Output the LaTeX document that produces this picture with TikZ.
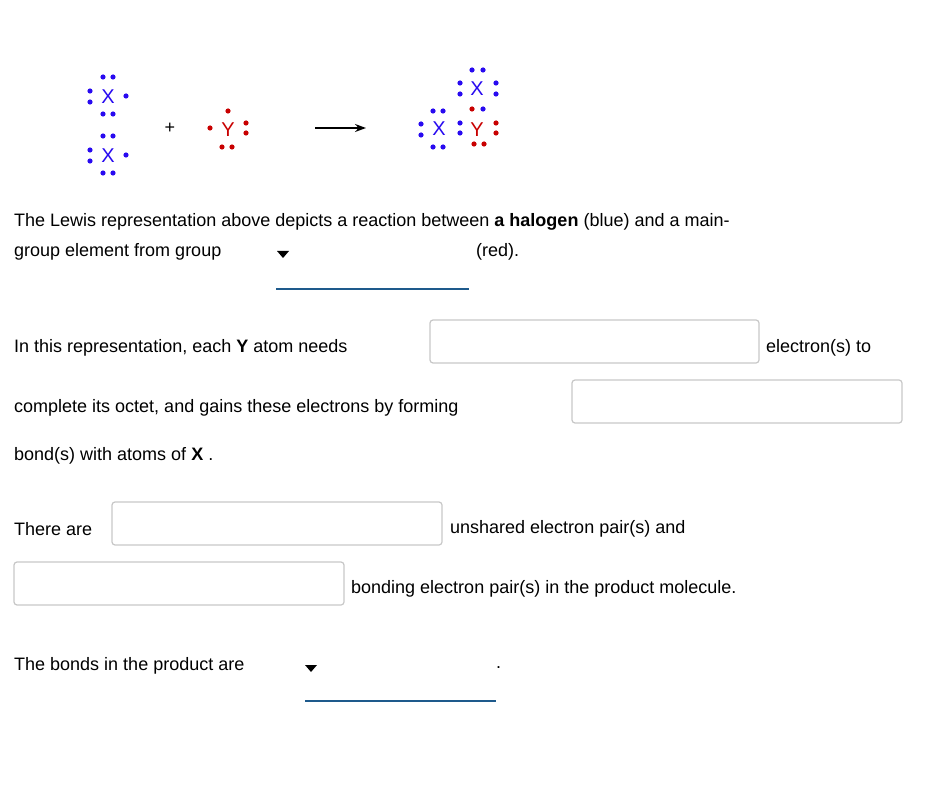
\documentclass[tikz,border=0pt]{standalone}
\usepackage{fontspec}
\setmainfont{Liberation Sans}
\usetikzlibrary{calc,arrows.meta}
\definecolor{xb}{RGB}{40,10,240}
\definecolor{yr}{RGB}{200,0,0}
\definecolor{ul}{RGB}{30,90,140}
\begin{document}
\begin{tikzpicture}[x=1pt,y=-1pt,
  txt/.style={anchor=west,inner sep=0pt,font=\fontsize{18}{20}\selectfont},
  box/.style={draw=black!22,line width=1.2pt,rounded corners=3pt},
  uline/.style={draw=ul,line width=1.8pt},
  atom/.style={inner sep=0pt,font=\fontsize{20}{20}\selectfont}]
\useasboundingbox (0,0) rectangle (948,786);
% reactant X atoms
\node[atom,text=xb] (x1) at (108,97) {X};
\node[atom,text=xb] (x2) at (108,156) {X};
\foreach \a in {x1,x2}{
 \foreach \dx/\dy in {-5/-20,5/-20,-18/-6,-18/5,18/-1,-5/17,5/17}{\fill[xb] ($(\a)+(\dx,\dy)$) circle (2.6);}}
\node[inner sep=0pt,font=\fontsize{18}{18}\selectfont] (plus) at (170,128) {+};
\node[atom,text=yr] (y1) at (228,130) {Y};
\foreach \p in {(228,111),(210,128),(246,123),(246,133),(222,147),(232,147)}{\fill[yr] \p circle (2.6);}
% arrow
\coordinate (a1) at (315,128); \coordinate (a2) at (366,128);
\draw[line width=1.6pt,-{Stealth[length=11pt,width=8pt]}] (a1) -- (a2);
% product
\node[atom,text=xb] (px) at (439,129) {X};
\node[atom,text=xb] (pxt) at (477,89) {X};
\node[atom,text=yr] (py) at (477,130) {Y};
\foreach \p in {(433,111),(443,111),(421,124),(421,135),(433,147),(443,147),
 (472,70),(483,70),(460,83),(460,94),(496,83),(496,94),
 (483,109),(460,123),(460,133)}{\fill[xb] \p circle (2.6);}
\foreach \p in {(472,109),(496,123),(496,133),(474,144),(484,144)}{\fill[yr] \p circle (2.6);}
% text
\node[txt] (t1) at (14,222) {The Lewis representation above depicts a reaction between \textbf{a halogen} (blue) and a main-};
\node[txt] (t2) at (14,252) {group element from group};
\fill (277,251) -- (289,251) -- (283,258) -- cycle;
\node[txt] (t3) at (476,252) {(red).};
\coordinate (u1a) at (276,289); \coordinate (u1b) at (469,289);
\draw[uline] (u1a) -- (u1b);
\node[txt] (t4) at (14,348) {In this representation, each \textbf{Y} atom needs};
\draw[box] (430,320) rectangle (759,363);
\node[txt] (t5) at (766,348) {electron(s) to};
\node[txt] (t6) at (14,408) {complete its octet, and gains these electrons by forming};
\draw[box] (572,380) rectangle (902,423);
\node[txt] (t7) at (14,456) {bond(s) with atoms of \textbf{X} .};
\node[txt] (t8) at (14,529) {There are};
\draw[box] (112,502) rectangle (442,545);
\node[txt] (t9) at (450,529) {unshared electron pair(s) and};
\draw[box] (14,562) rectangle (344,605);
\node[txt] (t10) at (351,589) {bonding electron pair(s) in the product molecule.};
\node[txt] (t11) at (14,666) {The bonds in the product are};
\fill (305,665) -- (317,665) -- (311,672) -- cycle;
\node[txt] (t12) at (496,668) {.};
\coordinate (u2a) at (305,701); \coordinate (u2b) at (496,701);
\draw[uline] (u2a) -- (u2b);
\end{tikzpicture}
\end{document}
